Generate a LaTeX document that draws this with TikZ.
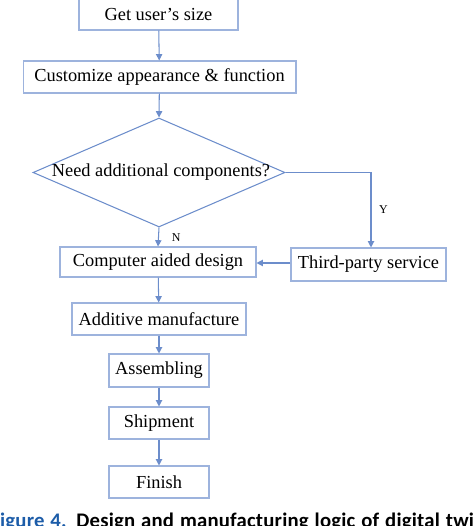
\documentclass[tikz,border=0pt]{standalone}
\usepackage{fontspec}
\setmainfont{Liberation Serif}
\newfontfamily\capfont{Carlito}[LetterSpace=1]
\usetikzlibrary{shapes.geometric,arrows.meta}
\definecolor{flowline}{HTML}{6C8DCB}
\definecolor{boxline}{HTML}{9DB3DD}
\definecolor{capblue}{HTML}{1C5CA8}

\begin{document}
\begin{tikzpicture}[x=0.02cm, y=-0.02cm]
  \tikzset{StepBox/.style = {
  shape = rectangle,
  draw = boxline,
  line width = 0.6pt,
  inner sep = 0pt,
  font = \fontsize{10.45}{12}\selectfont},
  Decision/.style = {
  shape = diamond,
  draw = flowline,
  line width = 0.6pt,
  inner sep = 0pt,
  minimum width = 5.04cm,
  minimum height = 2.18cm},
  Flow/.style = {
  draw = flowline,
  line width = 0.6pt,
  -{Triangle[length=3.6pt,width=3.6pt]}},
  BranchLabel/.style = {
  font = \fontsize{6.8}{7}\selectfont}}
  \useasboundingbox (0,0) rectangle (474,526);
  \clip (0,0) rectangle (474,526);
  \node[StepBox, minimum width=3.18cm, minimum height=0.64cm] (size) at (158.5,14) {Get user’s size};
  \node[StepBox, minimum width=5.46cm, minimum height=0.64cm] (custom) at (159.5,77) {Customize appearance \& function};
  \node[Decision] (need) at (159,172.5) {};
  \node[font=\fontsize{10.45}{12}\selectfont] (needtext) at (161,172) {Need additional components?};
  \node[StepBox, minimum width=3.92cm, minimum height=0.60cm] (cad) at (158,262) {Computer aided design};
  \node[StepBox, minimum width=3.10cm, minimum height=0.66cm] (third) at (368.5,264.5) {Third-party service};
  \node[StepBox, minimum width=3.48cm, minimum height=0.64cm] (additive) at (159,319) {Additive manufacture};
  \node[StepBox, minimum width=2.00cm, minimum height=0.66cm] (assembly) at (159,370.5) {Assembling};
  \node[StepBox, minimum width=2.00cm, minimum height=0.64cm] (shipment) at (159,423) {Shipment};
  \node[StepBox, minimum width=2.00cm, minimum height=0.64cm] (finish) at (159,482) {Finish};
  \coordinate (ycorner) at (371,172.5);
  \draw[Flow] (size) -- (custom);
  \draw[Flow] (custom) -- (need.north);
  \draw[Flow] (need.east) -- (ycorner) -- (ycorner |- third.north)
    node[BranchLabel, pos=0.5, right=1pt] (ylabel) {Y};
  \draw[Flow] (need.south) -- (cad.north)
    node[BranchLabel, pos=0.55, right=4pt] (nlabel) {N};
  \draw[Flow] (third.west |- 0,263) -- (cad.east |- 0,263);
  \draw[Flow] (cad) -- (additive);
  \draw[Flow] (additive) -- (assembly);
  \draw[Flow] (assembly) -- (shipment);
  \draw[Flow] (shipment) -- (finish);
  \node[anchor=base west, inner sep=0pt, font=\capfont\bfseries\fontsize{11.8}{13}\selectfont] (caption) at (-10,527.5)
    {\makebox[9.9cm][s]{\textcolor{capblue}{Figure 4.} Design and manufacturing logic of digital twin}};
\end{tikzpicture}
\end{document}
